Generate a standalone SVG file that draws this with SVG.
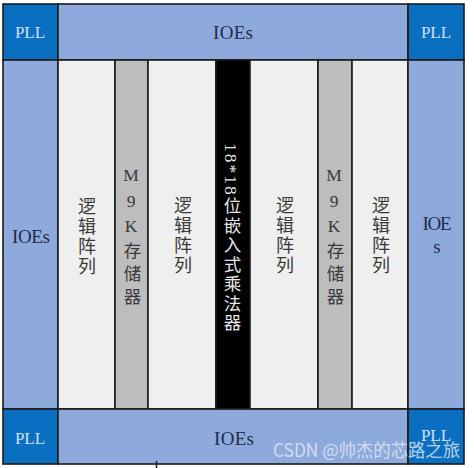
<svg xmlns="http://www.w3.org/2000/svg" width="474" height="468" viewBox="0 0 474 468">
<style>
rect{stroke:#1b1b1b;stroke-width:1.6}
.io{fill:#8eaadc}
.pll{fill:#0a6fc0}
.lg{fill:#efefef}
.m9{fill:#bdbdbd}
.mu{fill:#000}
text{font-family:"Liberation Serif","Noto Sans CJK SC",serif;text-anchor:middle}
.tio{font-size:19px;fill:#1f2d4a}
.tpl{font-size:17px;fill:#cfe0f4}
.vt{writing-mode:vertical-rl;text-anchor:start;font-family:"Liberation Serif","Noto Sans CJK SC",serif;font-size:18px;letter-spacing:2px;fill:#3a3a3a}
.up{text-orientation:upright;font-size:17.5px;letter-spacing:5.5px}
.mul{font-size:17.5px;fill:#e6e6e6}
.wm{font-family:"Noto Sans CJK SC","Liberation Sans",sans-serif;font-size:18px;fill:#e4e9f2;fill-opacity:0.8;text-anchor:start}
</style>
<rect x="0" y="0" width="474" height="468" fill="#fff" style="stroke:none"/>
<g id="pll-tl"><rect class="pll" x="3" y="4" width="55" height="56"/><text class="tpl" x="30" y="38">PLL</text></g>
<g id="ioes-top"><rect class="io" x="58" y="4" width="350" height="56"/><text class="tio" x="233" y="39" textLength="40" lengthAdjust="spacing">IOEs</text></g>
<g id="pll-tr"><rect class="pll" x="408" y="4" width="56" height="56"/><text class="tpl" x="436" y="38">PLL</text></g>
<g id="ioes-left"><rect class="io" x="3" y="60" width="55" height="349"/><text class="tio" x="31" y="243" textLength="38" lengthAdjust="spacing">IOEs</text></g>
<g id="logic-1"><rect class="lg" x="58" y="60" width="57" height="349"/>
<text class="vt" x="85" y="197">逻辑阵列</text></g>
<g id="m9k-1"><rect class="m9" x="115" y="60" width="33" height="349"/>
<text class="vt up" x="131" y="165">M9K存储器</text></g>
<g id="logic-2"><rect class="lg" x="148" y="60" width="68" height="349"/>
<text class="vt" x="181" y="196">逻辑阵列</text></g>
<g id="multiplier"><rect class="mu" x="216" y="60" width="34" height="349"/>
<text class="vt mul" x="231" y="143">18*18位嵌入式乘法器</text></g>
<g id="logic-3"><rect class="lg" x="250" y="60" width="68" height="349"/>
<text class="vt" x="283" y="196">逻辑阵列</text></g>
<g id="m9k-2"><rect class="m9" x="318" y="60" width="34" height="349"/>
<text class="vt up" x="334" y="165">M9K存储器</text></g>
<g id="logic-4"><rect class="lg" x="352" y="60" width="56" height="349"/>
<text class="vt" x="379" y="196">逻辑阵列</text></g>
<g id="ioes-right"><rect class="io" x="408" y="60" width="56" height="349"/><text class="tio" x="437" y="230" textLength="29" lengthAdjust="spacing">IOE</text><text class="tio" x="437" y="253">s</text></g>
<g id="pll-bl"><rect class="pll" x="3" y="409" width="55" height="55"/><text class="tpl" x="30" y="444">PLL</text></g>
<g id="ioes-bottom"><rect class="io" x="58" y="409" width="350" height="55"/><text class="tio" x="234" y="445" textLength="40" lengthAdjust="spacing">IOEs</text></g>
<g id="pll-br"><rect class="pll" x="408" y="409" width="56" height="55"/><text class="tpl" x="436" y="441">PLL</text></g>
<g id="connectors"><line x1="156.5" y1="461" x2="156.5" y2="468" stroke="#1b1b1b" stroke-width="1.5"/></g>
<text class="wm" x="273" y="457" textLength="187" lengthAdjust="spacingAndGlyphs">CSDN @帅杰的芯路之旅</text>
</svg>
